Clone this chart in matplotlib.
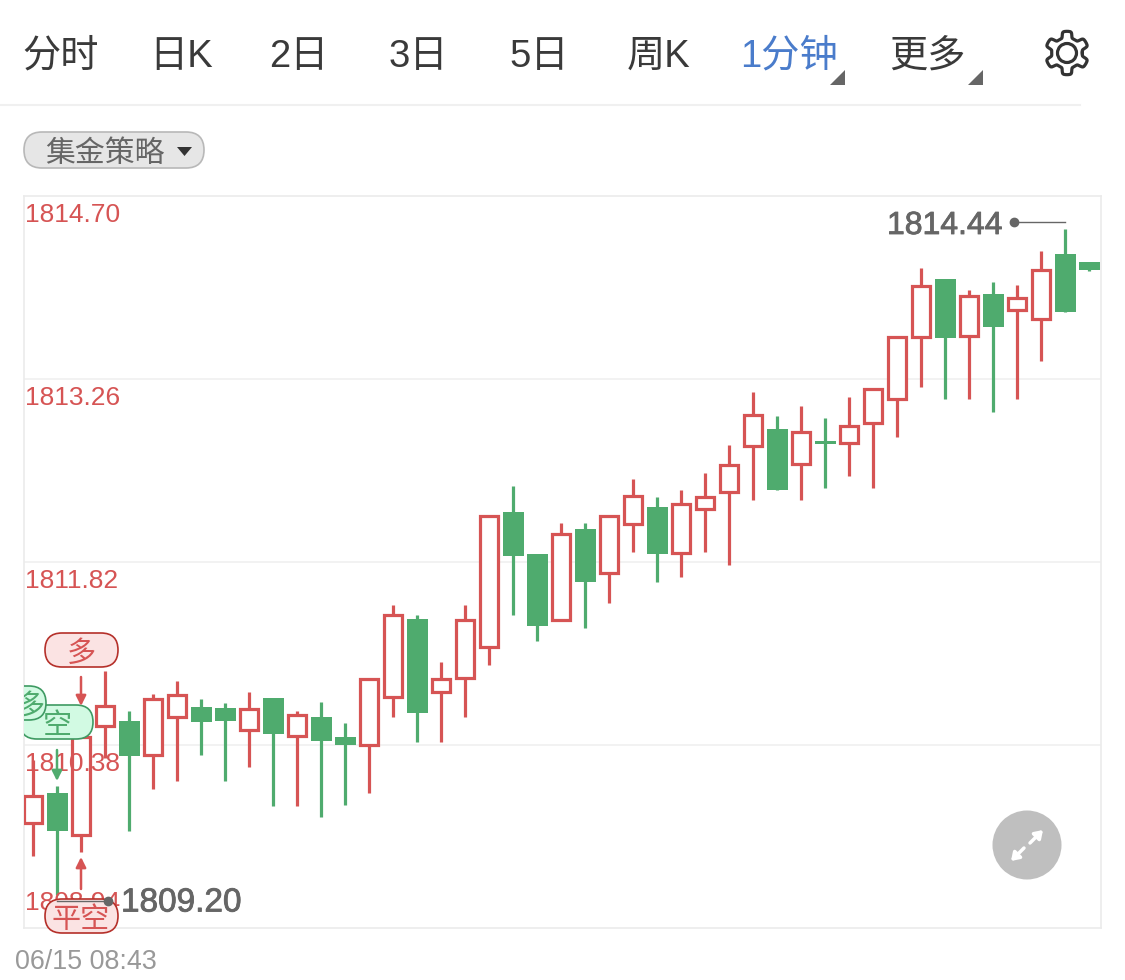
import matplotlib
matplotlib.use('Agg')
import matplotlib.pyplot as plt
import numpy as np
from matplotlib.patches import FancyBboxPatch, Circle, Polygon, Rectangle
import matplotlib.patheffects as pe

plt.rcParams['font.family'] = ['Noto Sans CJK SC', 'DejaVu Sans']

# one minute candles
opens = [1809.77, 1810.00, 1809.67, 1810.53, 1810.57, 1810.30, 1810.60, 1810.68, 1810.67,
         1810.50, 1810.75, 1810.45, 1810.60, 1810.44, 1810.38, 1810.76, 1811.37, 1810.80,
         1810.91, 1811.15, 1812.21, 1811.88, 1811.36, 1812.08, 1811.73, 1812.12, 1812.25,
         1811.89, 1812.24, 1812.37, 1812.73, 1812.87, 1812.59, 1812.77, 1812.76, 1812.91,
         1813.10, 1813.59, 1814.05, 1813.60, 1813.93, 1813.80, 1813.73, 1814.24, 1814.18]
closes = [1809.98, 1809.70, 1810.44, 1810.69, 1810.29, 1810.74, 1810.77, 1810.56, 1810.57,
          1810.66, 1810.47, 1810.62, 1810.41, 1810.38, 1810.90, 1811.40, 1810.63, 1810.90,
          1811.36, 1812.18, 1811.87, 1811.32, 1812.04, 1811.66, 1812.18, 1812.34, 1811.88,
          1812.28, 1812.33, 1812.58, 1812.98, 1812.39, 1812.84, 1812.75, 1812.89, 1813.18,
          1813.59, 1813.99, 1813.58, 1813.91, 1813.67, 1813.90, 1814.12, 1813.79, 1814.12]
highs = [1810.26, 1810.06, 1810.50, 1810.96, 1810.65, 1810.78, 1810.88, 1810.74, 1810.71,
         1810.80, 1810.75, 1810.65, 1810.72, 1810.55, 1810.90, 1811.48, 1811.40, 1811.03,
         1811.48, 1812.18, 1812.42, 1811.88, 1812.13, 1812.13, 1812.18, 1812.47, 1812.33,
         1812.39, 1812.52, 1812.74, 1813.16, 1812.97, 1813.05, 1812.95, 1813.12, 1813.18,
         1813.59, 1814.13, 1814.05, 1813.96, 1814.02, 1814.00, 1814.27, 1814.44, 1814.18]
lows = [1809.51, 1809.20, 1809.54, 1810.28, 1809.70, 1810.03, 1810.10, 1810.30, 1810.10,
        1810.21, 1809.90, 1809.90, 1809.81, 1809.91, 1810.00, 1810.60, 1810.40, 1810.40,
        1810.60, 1811.01, 1811.40, 1811.20, 1811.36, 1811.30, 1811.50, 1811.90, 1811.66,
        1811.70, 1811.90, 1811.80, 1812.31, 1812.39, 1812.31, 1812.40, 1812.50, 1812.40,
        1812.80, 1813.20, 1813.10, 1813.10, 1813.00, 1813.10, 1813.40, 1813.79, 1814.11]
price_levels = [1814.70, 1813.26, 1811.82, 1810.38, 1808.94]
tabs = ['分时', '日K', '2日', '3日', '5日', '周K', '1分钟', '更多']
tab_left = [22, 149, 269, 389, 509, 627, 740, 889]

RED = '#D65454'
GREEN = '#4FAB6E'
LATIN = ['Liberation Sans', 'DejaVu Sans']
MIXED = ['Liberation Sans', 'Noto Sans CJK SC']

fig = plt.figure(figsize=(11.25, 9.8), dpi=100)

# chart area
ax = fig.add_axes([24 / 1125, 52 / 980, 1077 / 1125, 732 / 980], zorder=1)
ax.set_xlim(-0.375, 44.5)
ax.set_ylim(price_levels[-1], price_levels[0])
ax.set_xticks([])
ax.set_yticks(price_levels[1:-1])
ax.tick_params(length=0, labelleft=False)
ax.grid(axis='y', color='#F0F0F0', lw=1.2)
ax.set_axisbelow(True)
for s in ax.spines.values():
    s.set_color('#EBEBEB')
    s.set_linewidth(1.2)

o = np.array(opens)
c = np.array(closes)
idx = np.arange(len(o))
up = c >= o
wick_col = [RED if u else GREEN for u in up]
ax.vlines(idx, lows, highs, colors=wick_col, lw=2.3, zorder=2)
ax.bar(idx[~up], (c - o)[~up], bottom=o[~up], width=0.875, color=GREEN, zorder=3)
ax.bar(idx[up], (c - o)[up], bottom=o[up], width=0.72, facecolor='white',
       edgecolor=RED, lw=2.3, zorder=3)

for i, p in enumerate(price_levels):
    off = 27 if i == 4 else -5
    ax.annotate('%.2f' % p, (-0.375, p), xytext=(1, off), textcoords='offset points',
                color=RED, fontsize=19, family=LATIN, va='top', ha='left', zorder=4)

# everything else in pixel coordinates of the screenshot
ui = fig.add_axes([0, 0, 1, 1], zorder=2)
ui.set_xlim(0, 1125)
ui.set_ylim(980, 0)
ui.axis('off')
ui.patch.set_alpha(0)

for name, x in zip(tabs, tab_left):
    ui.text(x, 57, name, fontsize=27.5, color='#4A7CCB' if name == '1分钟' else '#3A3A3A',
            va='center', ha='left', family=MIXED)
for x in [845, 983]:
    ui.add_patch(Polygon([[x, 70], [x, 85], [x - 15, 85]], color='#666666', lw=0))
ui.plot([0, 1080], [105, 105], color='#F0F0F0', lw=1.5)

# gear
t = np.linspace(0, 2 * np.pi, 400)
r = 18.5 + 3.2 * np.tanh(3 * -np.cos(6 * t))
ui.plot(1067 + r * np.cos(t), 53 + r * np.sin(t), color='#333333', lw=2.3)
ui.add_patch(Circle((1067, 53), 9.5, fill=False, ec='#333333', lw=2.3))

clip = Rectangle((24, 196), 1077, 784, transform=ui.transData)


def pill(x0, x1, y0, y1, label, fc, ec, tc, tx, size=21, clipped=True):
    h = (y1 - y0) / 2
    p = FancyBboxPatch((x0 + h, y0 + h), x1 - x0 - 2 * h, 0,
                       boxstyle='round,pad=%f,rounding_size=%f' % (h, h),
                       fc=fc, ec=ec, lw=1.2)
    ui.add_patch(p)
    tt = ui.text(tx, (y0 + y1) / 2 + 4, label, fontsize=size, color=tc, va='center', ha='center')
    if clipped:
        p.set_clip_path(clip)
        tt.set_clip_on(True)
        tt.set_clip_path(clip)


pill(24, 204, 132, 168, '集金策略', '#E6E6E6', '#B8B8B8', '#666666', 105, size=21.5, clipped=False)
ui.add_patch(Polygon([[177, 147], [192, 147], [184.5, 156]], color='#333333', lw=0))

pill(45, 118, 633, 667, '多', '#FBE3E3', '#B5302A', RED, 81)
pill(20, 93, 705, 739, '空', '#D2FAE3', '#3E9A62', GREEN, 57)
pill(-12, 46, 686, 720, '多', '#D2FAE3', '#3E9A62', GREEN, 30)
pill(45, 118, 899, 933, '平空', '#FBE3E3', '#B5302A', RED, 81)

for x, y0, y1, col in [(81, 677, 706, RED), (57, 750, 781, GREEN), (81, 889, 857, RED)]:
    ui.annotate('', (x, y1), (x, y0), arrowprops=dict(arrowstyle='-|>,head_length=0.6,head_width=0.3',
                                                     color=col, lw=1.8, shrinkA=0, shrinkB=0))

# high and low callouts
stroke = [pe.withStroke(linewidth=0.6, foreground='#666666')]
ui.plot([1014, 1065], [222, 222], color='#666666', lw=1)
ui.plot(1014, 222, 'o', color='#666666', ms=6)
ui.text(887, 226, '%.2f' % max(highs), fontsize=23, color='#666666', family=LATIN,
        va='center', ha='left', path_effects=stroke)
ui.plot([57, 108], [901, 901], color='#666666', lw=1)
ui.plot(108, 901, 'o', color='#666666', ms=6)
ui.text(121, 903, '%.2f' % min(lows), fontsize=24, color='#666666', family=LATIN,
        va='center', ha='left', path_effects=stroke)

ui.text(15, 962, '06/15 08:43', fontsize=19.4, color='#999999', family=LATIN, va='center', ha='left')

# expand button
ui.add_patch(Circle((1027, 845), 34.5, color='#BFBFBF', lw=0))
for a, b in [((1030, 843), (1043, 830)), ((1024, 848), (1011, 861))]:
    ui.annotate('', b, a, arrowprops=dict(arrowstyle='-|>,head_length=0.45,head_width=0.3',
                                          color='white', lw=2.5, shrinkA=0, shrinkB=0))

fig.savefig('out.png', dpi=100)
